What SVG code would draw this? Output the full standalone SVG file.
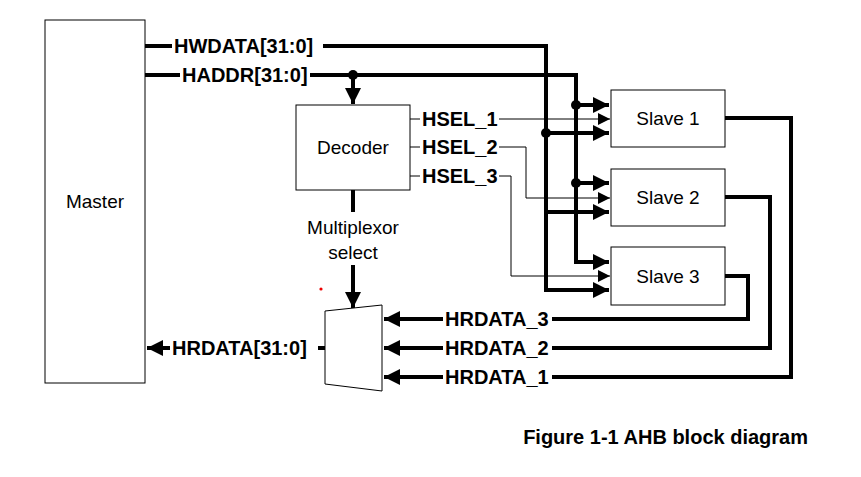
<svg xmlns="http://www.w3.org/2000/svg" width="861" height="477" viewBox="0 0 861 477">
<style>
.b{fill:#fff;stroke:#000;stroke-width:1}
.t{font-family:"Liberation Sans",Arial,sans-serif;font-size:19px;fill:#000}
.l{font-family:"Liberation Sans",Arial,sans-serif;font-size:20px;font-weight:bold;fill:#000}
.k{fill:none;stroke:#000;stroke-width:4}
.n{fill:none;stroke:#000;stroke-width:1}
</style>
<defs>
<marker id="K" viewBox="0 0 10 10" refX="10" refY="5" markerWidth="16" markerHeight="16" orient="auto" markerUnits="userSpaceOnUse"><path d="M0,0L10,5L0,10z"/></marker>
<marker id="S" viewBox="0 0 10 10" refX="10" refY="5" markerWidth="12" markerHeight="12" orient="auto" markerUnits="userSpaceOnUse"><path d="M0,0L10,5L0,10z"/></marker>
</defs>
<g id="connectors">
<path class="k" d="M145,46H172M323,46H546V290H609" marker-end="url(#K)"/>
<path class="k" d="M546,133H609" marker-end="url(#K)"/>
<path class="k" d="M546,212H609" marker-end="url(#K)"/>
<path class="k" d="M145,75H180M310,75H576V262H609" marker-end="url(#K)"/>
<path class="k" d="M576,105H609" marker-end="url(#K)"/>
<path class="k" d="M576,183H609" marker-end="url(#K)"/>
<path class="k" d="M353,75V104" marker-end="url(#K)"/>
<circle cx="353" cy="75" r="5"/><circle cx="576" cy="105" r="5"/><circle cx="546" cy="133" r="5"/><circle cx="576" cy="183" r="5"/>
<path class="n" d="M410,119H420M499,119H610" marker-end="url(#S)"/>
<path class="n" d="M410,147H420M499,147H526V198H610" marker-end="url(#S)"/>
<path class="n" d="M410,176H420M499,176H511V276H610" marker-end="url(#S)"/>
<path class="k" d="M353,190V212"/>
<path class="k" d="M353,265V308" marker-end="url(#K)"/>
<path class="k" d="M725,276H748V319H552M443,319H384" marker-end="url(#K)"/>
<path class="k" d="M725,197H770V348H552M443,348H384" marker-end="url(#K)"/>
<path class="k" d="M725,118H791V377H552M443,377H384" marker-end="url(#K)"/>
<path class="k" d="M325,348H318M170,348H147" marker-end="url(#K)"/>
</g>
<g id="master"><rect class="b" x="45" y="20" width="100" height="363"/><text class="t" x="95" y="208" text-anchor="middle">Master</text></g>
<g id="decoder"><rect class="b" x="296" y="105" width="114" height="85"/><text class="t" x="353" y="154" text-anchor="middle">Decoder</text></g>
<g id="slave1"><rect class="b" x="611" y="90" width="114" height="57"/><text class="t" x="668" y="125" text-anchor="middle">Slave 1</text></g>
<g id="slave2"><rect class="b" x="611" y="169" width="114" height="57"/><text class="t" x="668" y="204" text-anchor="middle">Slave 2</text></g>
<g id="slave3"><rect class="b" x="611" y="247" width="114" height="58"/><text class="t" x="668" y="283" text-anchor="middle">Slave 3</text></g>
<g id="mux"><path class="b" d="M325,311L382,305V391L325,384z"/></g>
<g id="labels">
<text class="l" x="174" y="53">HWDATA[31:0]</text>
<text class="l" x="182" y="82">HADDR[31:0]</text>
<text class="l" x="422" y="126">HSEL_1</text>
<text class="l" x="422" y="154">HSEL_2</text>
<text class="l" x="422" y="183">HSEL_3</text>
<text class="t" x="353" y="234" text-anchor="middle">Multiplexor</text>
<text class="t" x="353" y="259" text-anchor="middle">select</text>
<text class="l" x="445" y="326">HRDATA_3</text>
<text class="l" x="445" y="355">HRDATA_2</text>
<text class="l" x="445" y="384">HRDATA_1</text>
<text class="l" x="172" y="355">HRDATA[31:0]</text>
<text class="l" x="808" y="444" text-anchor="end" font-size="24.6">Figure 1-1 AHB block diagram</text>
</g>
<circle cx="321" cy="289" r="1.6" fill="#e00"/>
</svg>
